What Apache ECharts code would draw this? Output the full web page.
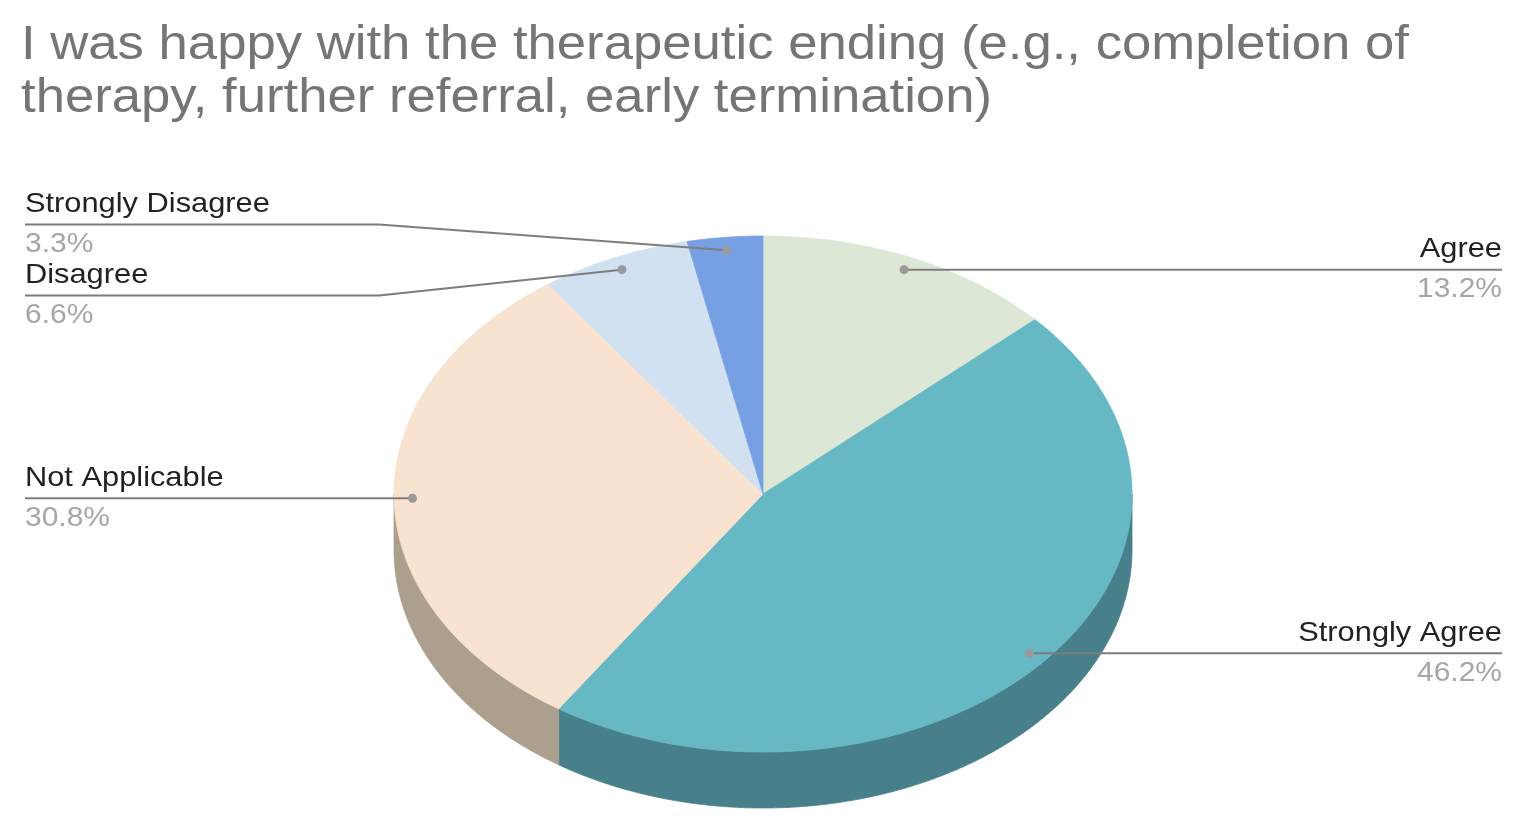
<!DOCTYPE html>
<html>
<head>
<meta charset="utf-8">
<script src="https://cdn.jsdelivr.net/npm/echarts@6/dist/echarts.min.js"></script>
<style>
html,body{margin:0;padding:0;background:#fff;}
#chart{width:1536px;height:832px;}
</style>
</head>
<body>
<div id="chart"></div>
<script>
// ---- data ----
const categories = ['Agree', 'Strongly Agree', 'Not Applicable', 'Disagree', 'Strongly Disagree'];
const percentValues = [13.2, 46.2, 30.8, 6.6, 3.3];
const chartTitle = 'I was happy with the therapeutic ending (e.g., completion of\ntherapy, further referral, early termination)';

// ---- styles ----
const topColors = ['#dce8d5', '#66b9c4', '#f7e3d0', '#d1e1f2', '#779fe3'];
const sideColors = ['#9aa295', '#47808a', '#ad9f8e', '#929da9', '#536f9f'];

// ---- layout ----
const CX = 763, CY = 494, RX = 369, RY = 258, DEPTH = 56;
const DOT_R = 0.95;
const LEFT_X = 25, RIGHT_X = 1502, ELBOW_L = 379, ELBOW_R = 1150, GAP = 71;
const FONT = '"Liberation Sans", Arial, sans-serif';
const LABEL_SIZE = 28;
const NAME_SCALE = 1.1, PCT_SCALE = 1.07, TITLE_SCALE = 1.075;

const total = percentValues.reduce((a, b) => a + b, 0);
const cum = [0];
percentValues.forEach(v => cum.push(cum[cum.length - 1] + v));
function ang(c) { return c / total * Math.PI * 2; }
function pt(t, r, dy) { return [CX + RX * r * Math.sin(t), CY - RY * r * Math.cos(t) + (dy || 0)]; }

// label layout: spread overlapping labels on each side
const dots = percentValues.map((v, i) => {
  const mid = (ang(cum[i]) + ang(cum[i + 1])) / 2;
  const p = pt(mid, DOT_R);
  return { i, x: p[0], y: p[1], right: Math.sin(mid) >= 0 };
});
const lineY = [];
[true, false].forEach(side => {
  const items = dots.filter(d => d.right === side).sort((a, b) => a.y - b.y);
  let clusters = items.map(it => ({ m: [it], c: it.y }));
  let changed = true;
  while (changed) {
    changed = false;
    for (let k = 0; k < clusters.length - 1; k++) {
      const a = clusters[k], b = clusters[k + 1];
      const bot = a.c + (a.m.length - 1) * GAP / 2;
      const top = b.c - (b.m.length - 1) * GAP / 2;
      if (top - bot < GAP) {
        const m = a.m.concat(b.m);
        const c = m.reduce((s, d) => s + d.y, 0) / m.length;
        clusters.splice(k, 2, { m, c });
        changed = true;
        break;
      }
    }
  }
  clusters.forEach(cl => cl.m.forEach((d, j) => {
    lineY[d.i] = cl.c - (cl.m.length - 1) * GAP / 2 + j * GAP;
  }));
});

function arc(a, b, r, dy) {
  const n = Math.max(2, Math.ceil((b - a) / 0.005));
  const out = [];
  for (let k = 0; k <= n; k++) out.push(pt(a + (b - a) * k / n, r, dy));
  return out;
}

function renderItem(params, api) {
  const i = params.dataIndex;
  const a = ang(cum[i]), b = ang(cum[i + 1]);
  const children = [];
  // top face
  children.push({
    type: 'polygon', z2: 10,
    shape: { points: [[CX, CY]].concat(arc(a, b, 1, 0)) },
    style: { fill: topColors[i], stroke: topColors[i], lineWidth: 0.8 }
  });
  // visible side wall
  const sa = Math.max(a, Math.PI / 2), sb = Math.min(b, Math.PI * 1.5);
  if (sb > sa) {
    const pts = arc(sa, sb, 1, 0).concat(arc(sa, sb, 1, DEPTH).reverse());
    children.push({
      type: 'polygon', z2: 1,
      shape: { points: pts },
      style: { fill: sideColors[i], stroke: sideColors[i], lineWidth: 0.8 }
    });
  }
  // leader line + labels
  const d = dots[i];
  const ly = lineY[i];
  const endX = d.right ? RIGHT_X : LEFT_X;
  const elbowX = d.right ? ELBOW_R : ELBOW_L;
  const linePts = Math.abs(ly - d.y) < 0.5 ? [[d.x, d.y], [endX, ly]] : [[d.x, d.y], [elbowX, ly], [endX, ly]];
  children.push({
    type: 'polyline', z2: 20,
    shape: { points: linePts },
    style: { stroke: '#7d7d7d', lineWidth: 2, fill: null }
  });
  children.push({
    type: 'circle', z2: 21,
    shape: { cx: d.x, cy: d.y, r: 4.5 },
    style: { fill: '#9a9a9a' }
  });
  children.push({
    type: 'text', z2: 22,
    x: endX, y: ly - 20, scaleX: NAME_SCALE,
    style: {
      text: categories[i], fill: '#222222', font: 'normal ' + LABEL_SIZE + 'px ' + FONT,
      align: d.right ? 'right' : 'left', verticalAlign: 'middle'
    }
  });
  children.push({
    type: 'text', z2: 22,
    x: endX, y: ly + 20, scaleX: PCT_SCALE,
    style: {
      text: percentValues[i].toFixed(1) + '%', fill: '#a6a6a6', font: 'normal ' + LABEL_SIZE + 'px ' + FONT,
      align: d.right ? 'right' : 'left', verticalAlign: 'middle'
    }
  });
  return { type: 'group', children };
}

const chart = echarts.init(document.getElementById('chart'));
chart.setOption({
  backgroundColor: '#ffffff',
  animation: false,
  graphic: [{
    type: 'text',
    x: 21, y: 19, scaleX: TITLE_SCALE,
    style: {
      text: chartTitle, fill: '#757575',
      font: 'normal 49px ' + FONT, lineHeight: 53,
      align: 'left', verticalAlign: 'top'
    }
  }],
  series: [{
    type: 'custom',
    coordinateSystem: 'none',
    renderItem: renderItem,
    data: percentValues.map((v, i) => ({ name: categories[i], value: v }))
  }]
});
</script>
</body>
</html>
